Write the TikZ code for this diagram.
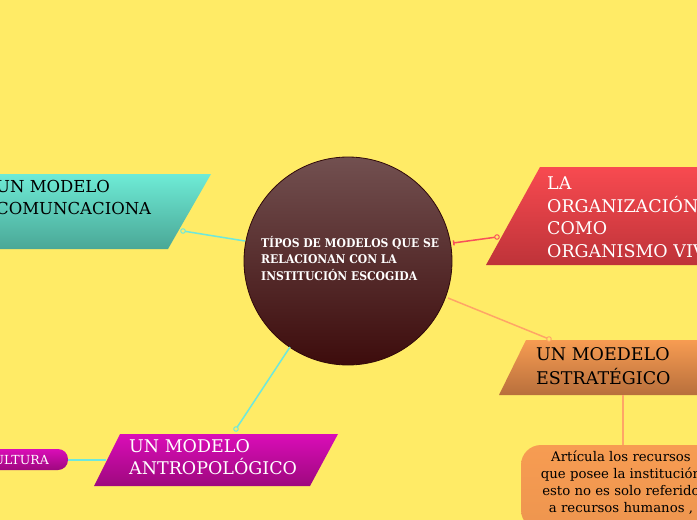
\documentclass[tikz,border=0pt]{standalone}
\usepackage{fontspec}
\setmainfont{DejaVu Serif}
\newfontfamily\hubfont{DejaVu Serif Condensed}
\usetikzlibrary{arrows.meta}
\definecolor{bgyellow}{HTML}{FFEB66}
\definecolor{tealtop}{HTML}{6EEBD6}
\definecolor{tealbot}{HTML}{4AA796}
\definecolor{tealline}{HTML}{6EE8DC}
\definecolor{redtop}{HTML}{F84A50}
\definecolor{redbot}{HTML}{BE3339}
\definecolor{redline}{HTML}{F8505A}
\definecolor{orgtop}{HTML}{F79C52}
\definecolor{orgbot}{HTML}{B86F3C}
\definecolor{orgline}{HTML}{FFA566}
\definecolor{magtop}{HTML}{DA0DB8}
\definecolor{magbot}{HTML}{9E087E}
\definecolor{hubtop}{HTML}{725050}
\definecolor{hubbot}{HTML}{3D0C0C}
\tikzset{
  toptext/.style={anchor=north west, align=left, font=\fontsize{16.5}{22}\selectfont, inner sep=0pt},
  dot/.style={circle, draw, line width=1pt, inner sep=1.6pt, fill=bgyellow},
  link/.style={line width=1.5pt}
}
\begin{document}
\begin{tikzpicture}[x=1pt,y=-1pt]
% canvas
\fill[bgyellow] (0,0) rectangle (697,520);
\useasboundingbox (0,0) rectangle (697,520);

% central topic
\shade[top color=hubtop, bottom color=hubbot, draw=hubbot!80!black, line width=0.8pt] (348,261) circle (104);
\node[anchor=north west, align=left, text=white, inner sep=0pt, font=\hubfont\bfseries\fontsize{12}{16.5}\selectfont] (hub) at (261,236) {TÍPOS DE MODELOS QUE SE\\RELACIONAN CON LA\\INSTITUCIÓN ESCOGIDA};

% teal topic
\shade[top color=tealtop, bottom color=tealbot] (-5,174) -- (211,174) -- (168,249) -- (-5,249) -- cycle;
\node[toptext] (comun) at (-4,180) {UN MODELO\\COMUNCACIONA};

% red topic
\shade[top color=redtop, bottom color=redbot] (540,167) -- (705,167) -- (705,265) -- (486,265) -- cycle;
\node[toptext, text=white, font=\fontsize{17.5}{22.5}\selectfont] (organismo) at (547,177) {LA\\ORGANIZACIÓN\\COMO\\ORGANISMO VIVO};

% orange topic
\shade[top color=orgtop, bottom color=orgbot] (526,340) -- (705,340) -- (705,395) -- (499,395) -- cycle;
\node[toptext, font=\fontsize{17.5}{24}\selectfont] (estrat) at (536,347) {UN MOEDELO\\ESTRATÉGICO};

% orange subtopic
\shade[top color=orgtop, bottom color=orgtop!85!orgbot, rounded corners=20pt] (521,530) -- (521,445) -- (720,445) -- (720,530) -- cycle;
\node[anchor=north, align=center, inner sep=0pt, font=\fontsize{13.3}{17}\selectfont] (recursos) at (621,451) {Artícula los recursos\\que posee la institución\\esto no es solo referido\\a recursos humanos ,};

% magenta topic
\shade[top color=magtop, bottom color=magbot] (120,434) -- (338,434) -- (310,486) -- (94,486) -- cycle;
\node[toptext, text=white, font=\fontsize{17.5}{22}\selectfont] (antrop) at (129,439) {UN MODELO\\ANTROPOLÓGICO};

% magenta subtopic
\shade[top color=magtop, bottom color=magbot, rounded corners=10pt] (-20,449) rectangle (68,470);
\node[anchor=east, text=white, inner sep=0pt, font=\fontsize{12.5}{14}\selectfont] (cultura) at (49,460) {CULTURA};

% connector ends
\coordinate (hubW) at (245,241);
\coordinate (hubE) at (453,243);
\coordinate (hubSE) at (448,298);
\coordinate (hubSW) at (290,347);
\coordinate (estratS) at (623,395);
\coordinate (recursosN) at (623,445);
\coordinate (culturaE) at (68,460);
\coordinate (antropW) at (106,460);

% connectors
\draw[link, tealline] (hubW) -- (183,231) node[dot, draw=tealline] (comunDot) {};
\draw[link, redline, {Bar[width=5pt]}-] (hubE) -- (497,237) node[dot, draw=redline] (orgDot) {};
\draw[link, orgline] (hubSE) -- (549,339) node[dot, draw=orgline] (estratDot) {};
\draw[link, orgline] (estratS) -- (recursosN);
\draw[link, tealline] (hubSW) -- (236,429) node[dot, draw=tealline] (antropDot) {};
\draw[link, tealline] (culturaE) -- (antropW);
\end{tikzpicture}
\end{document}
